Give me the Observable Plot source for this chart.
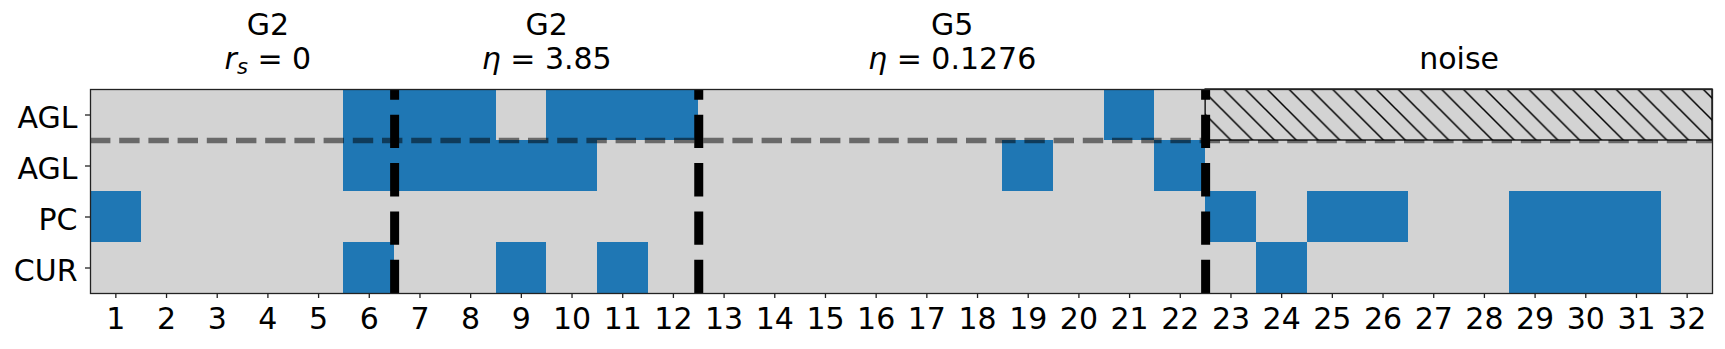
<!DOCTYPE html>
<html>
<head>
<meta charset="utf-8">
<script src="https://cdn.jsdelivr.net/npm/d3@7"></script>
<script src="https://cdn.jsdelivr.net/npm/@observablehq/plot@0.6"></script>
<style>
  html, body { margin: 0; padding: 0; background: #fff; }
  #chart svg { display: block; }
</style>
</head>
<body>
<div id="chart"></div>
<script>
// ---------- data ----------
const rowLabels = ["AGL", "AGL", "PC", "CUR"];
const columns = [1, 2, 3, 4, 5, 6, 7, 8, 9, 10, 11, 12, 13, 14, 15, 16,
                 17, 18, 19, 20, 21, 22, 23, 24, 25, 26, 27, 28, 29, 30, 31, 32];
const activeAGL1 = [6, 7, 8, 10, 11, 12, 21];
const activeAGL2 = [6, 7, 8, 9, 10, 19, 22];
const activePC   = [1, 23, 25, 26, 29, 30, 31];
const activeCUR  = [6, 9, 11, 24, 29, 30, 31];
const groupBoundaries = [6.5, 12.5, 22.5];
const rowSplit = [1];
const hatchRow = [0];
const hatchFrom = [22.5];
const hatchTo = [32.5];
const groupNames  = ["G2", "G2", "G5", ""];
const groupParams = ["r_s = 0", "η = 3.85", "η = 0.1276", "noise"];
const groupIsMath = [true, true, true, false];
const groupX      = [4, 9.5, 17.5, 27.5];

// ---------- derived tables ----------
const activeByRow = [activeAGL1, activeAGL2, activePC, activeCUR];
const cells = [];
activeByRow.forEach((list, r) => columns.forEach(c => cells.push({row: r, col: c, on: list.includes(c)})));
const hatch = hatchRow.map((r, i) => ({row: r, from: hatchFrom[i], to: hatchTo[i]}));
const groups = groupNames.map((n, i) => ({name: n, param: groupParams[i], x: groupX[i], math: groupIsMath[i]}));
const yTicks = rowLabels.map((_, i) => i + 0.5);

const BLUE = "#1f77b4", GRAY = "#d3d3d3";

const marks = [
  Plot.rect(cells.filter(d => !d.on), {x1: d => d.col - 0.5, x2: d => d.col + 0.5, y1: "row", y2: d => d.row + 1, fill: GRAY, shapeRendering: "crispEdges"}),
  Plot.rect(cells.filter(d => d.on), {x1: d => d.col - 0.5, x2: d => d.col + 0.5, y1: "row", y2: d => d.row + 1, fill: BLUE, shapeRendering: "crispEdges"}),
  Plot.ruleY(rowSplit, {y: d => d, stroke: "black", strokeOpacity: 0.5, strokeWidth: 5.5, strokeDasharray: "20.4,8.8"}),
  Plot.rect(hatch, {x1: "from", x2: "to", y1: "row", y2: d => d.row + 1, fill: "url(#hatchPat)", stroke: "black", strokeWidth: 1.3}),
  Plot.ruleX(groupBoundaries, {x: d => d, y1: 4, y2: 0, stroke: "black", strokeWidth: 9, strokeDasharray: "33.3,15"}),
  Plot.frame({stroke: "#222", strokeWidth: 1.3}),
  Plot.text(rowLabels, {text: d => d, y: (d, i) => i + 0.5, frameAnchor: "left", dx: -13, dy: 3.5, textAnchor: "end", lineAnchor: "middle", fill: "black", fontSize: 30}),
  Plot.text(groups.filter(g => g.name), {x: "x", y: 0, text: "name", lineAnchor: "bottom", dy: -55, fill: "black", fontSize: 30}),
  Plot.text(groups, {x: "x", y: 0, text: "param", lineAnchor: "bottom", dy: -21, fill: "black", fontSize: 30})
];

const hasAxisMarks = typeof Plot.axisX === "function";
if (hasAxisMarks) {
  marks.push(Plot.axisX(columns, {tickSize: 5, tickPadding: 9, stroke: "#222", strokeWidth: 1.3, fill: "black", fontSize: 30, label: null}));
  marks.push(Plot.axisY(yTicks, {tickSize: 5, tickFormat: () => "", stroke: "#222", strokeWidth: 1.3, label: null}));
}

const svg = Plot.plot({
  width: 1725,
  height: 349,
  marginLeft: 90,
  marginRight: 13,
  marginTop: 89,
  marginBottom: 56,
  style: {fontFamily: "DejaVu Sans", fontSize: "30px", background: "white", color: "black"},
  x: Object.assign({domain: [0.5, 32.5], label: null}, hasAxisMarks ? {} : {ticks: columns, tickSize: 5, tickPadding: 9, tickFormat: d => String(d)}),
  y: Object.assign({domain: [0, 4], reverse: true, label: null}, hasAxisMarks ? {} : {ticks: yTicks, tickSize: 5, tickFormat: () => ""}),
  marks
});

// hatch pattern definition
const S = 21.8;
const defs = d3.select(svg).insert("defs", ":first-child");
const pat = defs.append("pattern")
  .attr("id", "hatchPat").attr("patternUnits", "userSpaceOnUse")
  .attr("width", S).attr("height", S).attr("x", 0.7).attr("y", 0);
pat.append("rect").attr("width", S).attr("height", S).attr("fill", GRAY);
pat.append("path")
  .attr("d", `M-2,-2L${S + 2},${S + 2}M${S - 2},-2L${S + 2},2M-2,${S - 2}L2,${S + 2}`)
  .attr("stroke", "black").attr("stroke-width", 1.5).attr("fill", "none");

// math-style subtitles (italic variables, subscripts)
const mathParams = new Set(groups.filter(g => g.math).map(g => g.param));
d3.select(svg).selectAll("text").each(function () {
  const s = this.textContent;
  if (!mathParams.has(s) || this.querySelector("tspan")) return;
  const el = d3.select(this).style("white-space", "pre");
  el.text(null);
  let k = 0;
  let upright = "";
  let pendingDy = null;
  const add = (txt, italic, sub) => {
    const t = el.append("tspan").text(txt);
    if (italic) t.attr("font-style", "italic");
    if (sub) { t.attr("font-size", "0.7em").attr("dy", "0.25em"); pendingDy = "-0.175em"; }
    else if (pendingDy) { t.attr("dy", pendingDy); pendingDy = null; }
  };
  const flush = () => { if (upright) { add(upright, false, false); upright = ""; } };
  while (k < s.length) {
    const ch = s[k];
    if (ch === "_" && k + 1 < s.length) {
      flush();
      add(s[k + 1], true, true);
      k += 2;
    } else if (/[A-Za-z\u0370-\u03ff]/.test(ch)) {
      flush();
      add(ch, true, false);
      k++;
    } else {
      upright += ch;
      k++;
    }
  }
  flush();
});

document.getElementById("chart").appendChild(svg);
</script>
</body>
</html>
